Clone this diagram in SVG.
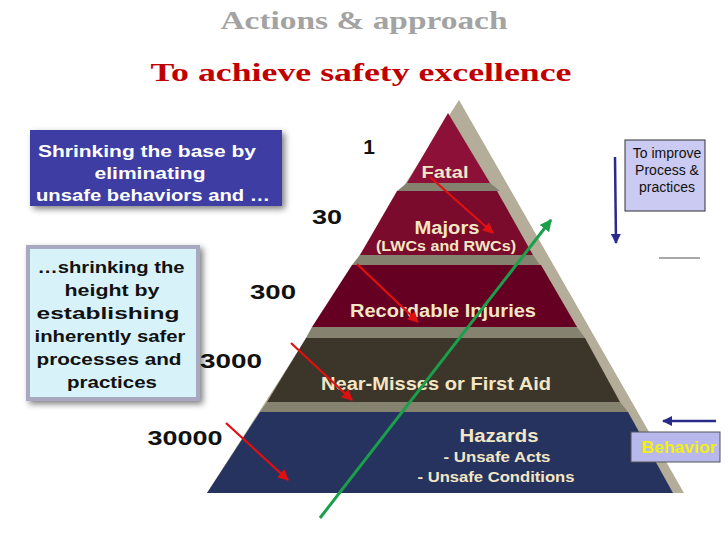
<svg xmlns="http://www.w3.org/2000/svg" width="728" height="546" viewBox="0 0 728 546">
<defs>
<style>
.t{font-family:"Liberation Sans",Arial,sans-serif;font-weight:bold;text-anchor:middle}
.pt{fill:#f3e6c4;font-size:18px}
.num{fill:#111;font-size:21px}
.ledge{fill:#85826f}
</style>
<marker id="ra" viewBox="0 0 10 10" refX="9" refY="5" markerWidth="5" markerHeight="5" orient="auto"><path d="M0,0L10,5L0,10z" fill="#e01010"/></marker>
<marker id="ga" viewBox="0 0 10 10" refX="9" refY="5" markerWidth="4" markerHeight="4" orient="auto"><path d="M0,0L10,5L0,10z" fill="#1aa04a"/></marker>
<marker id="ba" viewBox="0 0 10 10" refX="9" refY="5" markerWidth="4" markerHeight="4" orient="auto"><path d="M0,0L10,5L0,10z" fill="#2a2a8a"/></marker>
<filter id="sh" x="-20%" y="-20%" width="140%" height="140%"><feGaussianBlur in="SourceAlpha" stdDeviation="3"/><feOffset dx="3" dy="3"/><feComponentTransfer><feFuncA type="linear" slope="0.5"/></feComponentTransfer><feMerge><feMergeNode/><feMergeNode in="SourceGraphic"/></feMerge></filter>
</defs>
<rect width="728" height="546" fill="#fff"/>
<text x="364" y="29" class="t" textLength="287" lengthAdjust="spacingAndGlyphs" style="font-family:'Liberation Serif',serif;font-size:26px;fill:#a3a3a3">Actions &amp; approach</text>
<text x="361" y="81" class="t" textLength="421" lengthAdjust="spacingAndGlyphs" style="font-family:'Liberation Serif',serif;font-size:26px;fill:#c00000">To achieve safety excellence</text>

<g id="pyramid">
<polygon points="459,100 684,493 207,493" fill="#b3ad9a"/>
<polygon points="448,113 407,183 490,183" fill="#8c1038"/>
<polygon points="407,183 490,183 500,191 397,191" class="ledge"/>
<polygon points="397,191 497,191 533,255 360,255" fill="#7a0b2c"/>
<polygon points="360,255 533,255 540,265 352,265" class="ledge"/>
<polygon points="352,265 541,265 577,327 312,327" fill="#650022"/>
<polygon points="312,327 577,327 585,338 306,338" class="ledge"/>
<polygon points="306,338 585,338 620,402 267,402" fill="#3b352a"/>
<polygon points="267,402 620,402 628,412 260,412" class="ledge"/>
<polygon points="260,412 628,412 673,493 207,493" fill="#27335f"/>
</g>
<g id="labels">
<text x="445" y="178" class="t pt" style="font-size:17px" textLength="47" lengthAdjust="spacingAndGlyphs">Fatal</text>
<text x="447" y="234" class="t pt" textLength="65" lengthAdjust="spacingAndGlyphs">Majors</text>
<text x="446" y="251" class="t pt" style="font-size:14px" textLength="140" lengthAdjust="spacingAndGlyphs">(LWCs and RWCs)</text>
<text x="443" y="317" class="t pt" textLength="186" lengthAdjust="spacingAndGlyphs">Recordable Injuries</text>
<text x="436" y="390" class="t pt" textLength="230" lengthAdjust="spacingAndGlyphs">Near-Misses or First Aid</text>
<text x="499" y="442" class="t pt" textLength="79" lengthAdjust="spacingAndGlyphs">Hazards</text>
<text x="497" y="462" class="t pt" style="font-size:15px" textLength="107" lengthAdjust="spacingAndGlyphs">-  Unsafe Acts</text>
<text x="496" y="482" class="t pt" style="font-size:15px" textLength="157" lengthAdjust="spacingAndGlyphs">-  Unsafe Conditions</text>
<text x="369" y="154" class="t num">1</text>
<text x="327" y="224" class="t num" textLength="30" lengthAdjust="spacingAndGlyphs">30</text>
<text x="273" y="299" class="t num" textLength="46" lengthAdjust="spacingAndGlyphs">300</text>
<text x="231" y="368" class="t num" textLength="62" lengthAdjust="spacingAndGlyphs">3000</text>
<text x="185" y="445" class="t num" textLength="75" lengthAdjust="spacingAndGlyphs">30000</text>
</g>
<g id="connectors" stroke-width="2.2">
<line x1="430" y1="177" x2="493" y2="233" stroke="#e01010" marker-end="url(#ra)"/>
<line x1="357" y1="264" x2="418" y2="322" stroke="#e01010" marker-end="url(#ra)"/>
<line x1="291" y1="343" x2="352" y2="400" stroke="#e01010" marker-end="url(#ra)"/>
<line x1="226" y1="423" x2="288" y2="480" stroke="#e01010" marker-end="url(#ra)"/>
<line x1="320" y1="518" x2="551" y2="220" stroke="#1aa04a" stroke-width="3" marker-end="url(#ga)"/>
<line x1="615" y1="157" x2="616" y2="243" stroke="#2a2a8a" stroke-width="2.5" marker-end="url(#ba)"/>
<line x1="716" y1="421" x2="663" y2="421" stroke="#2a2a8a" stroke-width="2.5" marker-end="url(#ba)"/>
<line x1="659" y1="258" x2="700" y2="258" stroke="#555" stroke-width="1"/>
</g>
<g id="box-base">
<rect x="30" y="130" width="252" height="76" fill="#3c3ca4" filter="url(#sh)"/>
<text class="t" fill="#fff" font-size="17"><tspan x="147" y="157" textLength="218" lengthAdjust="spacingAndGlyphs">Shrinking the base by</tspan><tspan x="150" y="179" textLength="111" lengthAdjust="spacingAndGlyphs">eliminating</tspan><tspan x="153" y="201" textLength="234" lengthAdjust="spacingAndGlyphs">unsafe behaviors and …</tspan></text>
</g>
<g id="box-height">
<rect x="28" y="247" width="170" height="152" fill="#d8f2fa" stroke="#a8a8c0" stroke-width="4" filter="url(#sh)"/>
<text class="t" fill="#111" font-size="17"><tspan x="111" y="273" textLength="147" lengthAdjust="spacingAndGlyphs">…shrinking the</tspan><tspan x="112" y="296" textLength="95" lengthAdjust="spacingAndGlyphs">height by</tspan><tspan x="108" y="319" textLength="143" lengthAdjust="spacingAndGlyphs">establishing</tspan><tspan x="110" y="342" textLength="151" lengthAdjust="spacingAndGlyphs">inherently safer</tspan><tspan x="109" y="365" textLength="145" lengthAdjust="spacingAndGlyphs">processes and</tspan><tspan x="112" y="388" textLength="90" lengthAdjust="spacingAndGlyphs">practices</tspan></text>
</g>
<g id="box-process">
<rect x="625" y="140" width="80" height="71" fill="#cacaf2" stroke="#333" stroke-width="1"/>
<text font-family="Liberation Sans,Arial,sans-serif" font-size="14" text-anchor="middle" fill="#111"><tspan x="667" y="158">To improve</tspan><tspan x="667" y="175">Process &amp;</tspan><tspan x="667" y="192">practices</tspan></text>
</g>
<g id="box-behavior">
<rect x="631" y="432" width="89" height="30" fill="#b8b8ec" stroke="#555" stroke-width="1"/>
<text x="679" y="453" class="t" fill="#f2f010" font-size="16" textLength="75" lengthAdjust="spacingAndGlyphs">Behavior</text>
</g>
</svg>
